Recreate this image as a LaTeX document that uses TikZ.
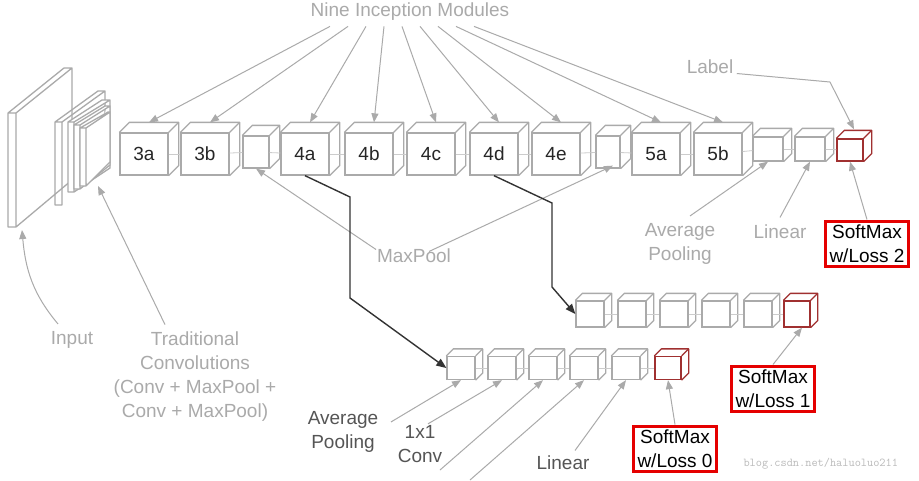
\documentclass[tikz,border=0pt]{standalone}
\usepackage{fontspec}
\setmainfont{Liberation Sans}
\usetikzlibrary{arrows.meta}
\definecolor{lgray}{HTML}{AAAAAA}
\definecolor{dgray}{HTML}{555555}
\definecolor{cubered}{HTML}{A03030}
\newcommand\dep{10}
% cube: name, x, y, width, height, colour, label
\newcommand\cube[7]{%
  \node[box,draw=#6,minimum width=#4,minimum height=#5] (#1) at (#2,#3) {#7};
  \draw[#6,line width=1.3pt,line join=round] (#1.north west) -- ++(\dep,-\dep)
    -| ([shift={(\dep,-\dep)}]#1.south east) -- (#1.south east);
  \draw[#6,line width=1.3pt] (#1.north east) -- ++(\dep,-\dep);}
\tikzset{
  box/.style={rectangle,line width=1.3pt,inner sep=0pt,font=\fontsize{19}{19}\selectfont,text=black!85},
  lab/.style={font=\fontsize{19}{24}\selectfont,text=lgray,align=center},
  dlab/.style={font=\fontsize{19}{24}\selectfont,text=dgray,align=center},
  arr/.style={lgray,line width=1pt,-{Triangle[length=9,width=7]}},
  link/.style={lgray!60,line width=0.8pt},
  path/.style={black!80,line width=1.4pt,-{Triangle[length=10,width=8]}},
  loss/.style={draw=red!90!black,line width=3pt,inner sep=4pt,align=center,font=\fontsize{19}{24}\selectfont}
}
\begin{document}
\begin{tikzpicture}[x=1pt,y=-1pt]
\useasboundingbox[fill=white] (0,0) rectangle (919,480);
% input and traditional convolutions
\draw[lgray,line width=1.3pt,line join=round] (8,113) rectangle (16,227) (8,113) -- (64,68) -- (72,68) -- (16,113) (72,68) -- (72,180) -- (16,227);
\draw[lgray,line width=1.3pt,line join=round] (55,122) rectangle (62,205) (55,122) -- (98,91) -- (105,91) -- (62,122) (105,91) -- (105,150);
\foreach \s in {0,6,12}
  \draw[lgray,line width=1.3pt,line join=round,fill=white] (68+\s,122+\s/2) rectangle (74+\s,192-\s/2) (68+\s,122+\s/2) -- (102+\s/2,100+\s) -- (110,100+\s) -- (74+\s,122+\s/2) (110,100+\s) -- (110,168-\s/2) -- (74+\s,192-\s/2);
\coordinate (inp) at (22,230);
\coordinate (conv) at (98,186);
% main row
\renewcommand\dep{10}
\cube{c3a}{144}{154}{48}{42}{lgray}{3a}
\cube{c3b}{205}{154}{48}{42}{lgray}{3b}
\cube{mp1}{256}{152}{26}{32}{lgray}{}
\cube{c4a}{305}{154}{48}{42}{lgray}{4a}
\cube{c4b}{369}{154}{48}{42}{lgray}{4b}
\cube{c4c}{431}{154}{48}{42}{lgray}{4c}
\cube{c4d}{494}{154}{48}{42}{lgray}{4d}
\cube{c4e}{556}{154}{48}{42}{lgray}{4e}
\cube{mp2}{608}{152}{24}{32}{lgray}{}
\cube{c5a}{656}{154}{48}{42}{lgray}{5a}
\cube{c5b}{718}{154}{48}{42}{lgray}{5b}
\renewcommand\dep{8}
\cube{avg}{768}{149}{30}{24}{lgray}{}
\cube{lin}{810}{149}{30}{24}{lgray}{}
\cube{sm}{850}{150}{26}{22}{cubered}{}
% auxiliary classifiers
\renewcommand\dep{7}
\cube{a1}{461}{368}{28}{23}{lgray}{}
\cube{a2}{502}{368}{28}{23}{lgray}{}
\cube{a3}{543}{368}{28}{23}{lgray}{}
\cube{a4}{584}{368}{28}{23}{lgray}{}
\cube{a5}{626}{368}{28}{23}{lgray}{}
\cube{a6}{668}{368}{26}{23}{cubered}{}
\cube{b1}{590}{314}{28}{26}{lgray}{}
\cube{b2}{632}{314}{28}{26}{lgray}{}
\cube{b3}{674}{314}{28}{26}{lgray}{}
\cube{b4}{716}{314}{28}{26}{lgray}{}
\cube{b5}{758}{314}{28}{26}{lgray}{}
\cube{b6}{797}{314}{26}{26}{cubered}{}
\foreach \p/\q in {c3a/c3b,c3b/mp1,mp1/c4a,c4a/c4b,c4b/c4c,c4c/c4d,c4d/c4e,c4e/mp2,mp2/c5a,c5a/c5b,c5b/avg,avg/lin,lin/sm,a1/a2,a2/a3,a3/a4,a4/a5,a5/a6,b1/b2,b2/b3,b3/b4,b4/b5,b5/b6}
  \draw[link] (\p) -- (\q);
% labels
\node[lab] (nine) at (410,12) {Nine Inception Modules};
\foreach \m [count=\i from 0] in {c3a,c3b,c4a,c4b,c4c,c4d,c4e,c5a,c5b}
  \draw[arr] ([xshift=-80+18*\i,yshift=-2]nine.south) -- ([shift={(5,-10)}]\m.north);
\node[lab] (mpool) at (414,256) {MaxPool};
\draw[arr] ([xshift=-38,yshift=-4]mpool.north) -- (mp1.south);
\draw[arr] ([xshift=15,yshift=-6]mpool.north) -- ([shift={(5,-3)}]mp2.south);
\node[lab] (label) at (710,67) {Label};
\draw[arr] ([yshift=4]label.south east) -- (830,82) -- ([shift={(4,-9)}]sm.north);
\node[lab] (avgl) at (680,244) {Average\\Pooling};
\draw[arr] ([xshift=10,yshift=4]avgl.north) -- (avg.south);
\node[lab] (linl) at (780,232) {Linear};
\draw[arr] ([yshift=4]linl.north) -- (lin.south);
\node[loss] (sm2) at (867,244) {SoftMax\\w/Loss 2};
\draw[arr] (sm2.north) -- (sm.south);
\node[lab] (inl) at (72,340) {Input};
\draw[arr] ([xshift=-14,yshift=4]inl.north) to[out=130,in=-85] (inp);
\node[lab] (tradl) at (195,377) {Traditional\\Convolutions\\(Conv + MaxPool +\\Conv + MaxPool)};
\draw[arr] ([xshift=-30,yshift=4]tradl.north) -- (conv);
% auxiliary labels
\node[dlab] (apl) at (343,432) {Average\\Pooling};
\draw[arr] ([xshift=48,yshift=-14]apl.north) -- (a1.south);
\node[dlab] (convl) at (420,444) {1x1\\Conv};
\coordinate (e3) at (440,470);
\coordinate (e4) at (470,480);
\draw[arr] ([xshift=8,yshift=-2]convl.north) -- (a2.south);
\draw[arr] (e3) -- (a3.south);
\draw[arr] (e4) -- (a4.south);
\node[dlab] (linal) at (563,463) {Linear};
\draw[arr] ([xshift=12,yshift=2]linal.north) -- (a5.south);
\node[loss] (sm0) at (675,449) {SoftMax\\w/Loss 0};
\draw[arr] (sm0.north) -- (a6.south);
\node[loss] (sm1) at (773,389) {SoftMax\\w/Loss 1};
\draw[arr] (sm1.north) -- ([xshift=5]b6.south);
% main path to the auxiliary classifiers
\draw[path] (c4a.south) -- (350,197) -- (350,298) -- (a1.west);
\draw[path] (c4d.south) -- (552,203) -- (552,287) -- (b1.west);
\node[font=\ttfamily\fontsize{12}{12}\selectfont,text=lgray!80,anchor=west] (wm) at (740,464) {blog.csdn.net/haluoluo211};
\end{tikzpicture}
\end{document}
